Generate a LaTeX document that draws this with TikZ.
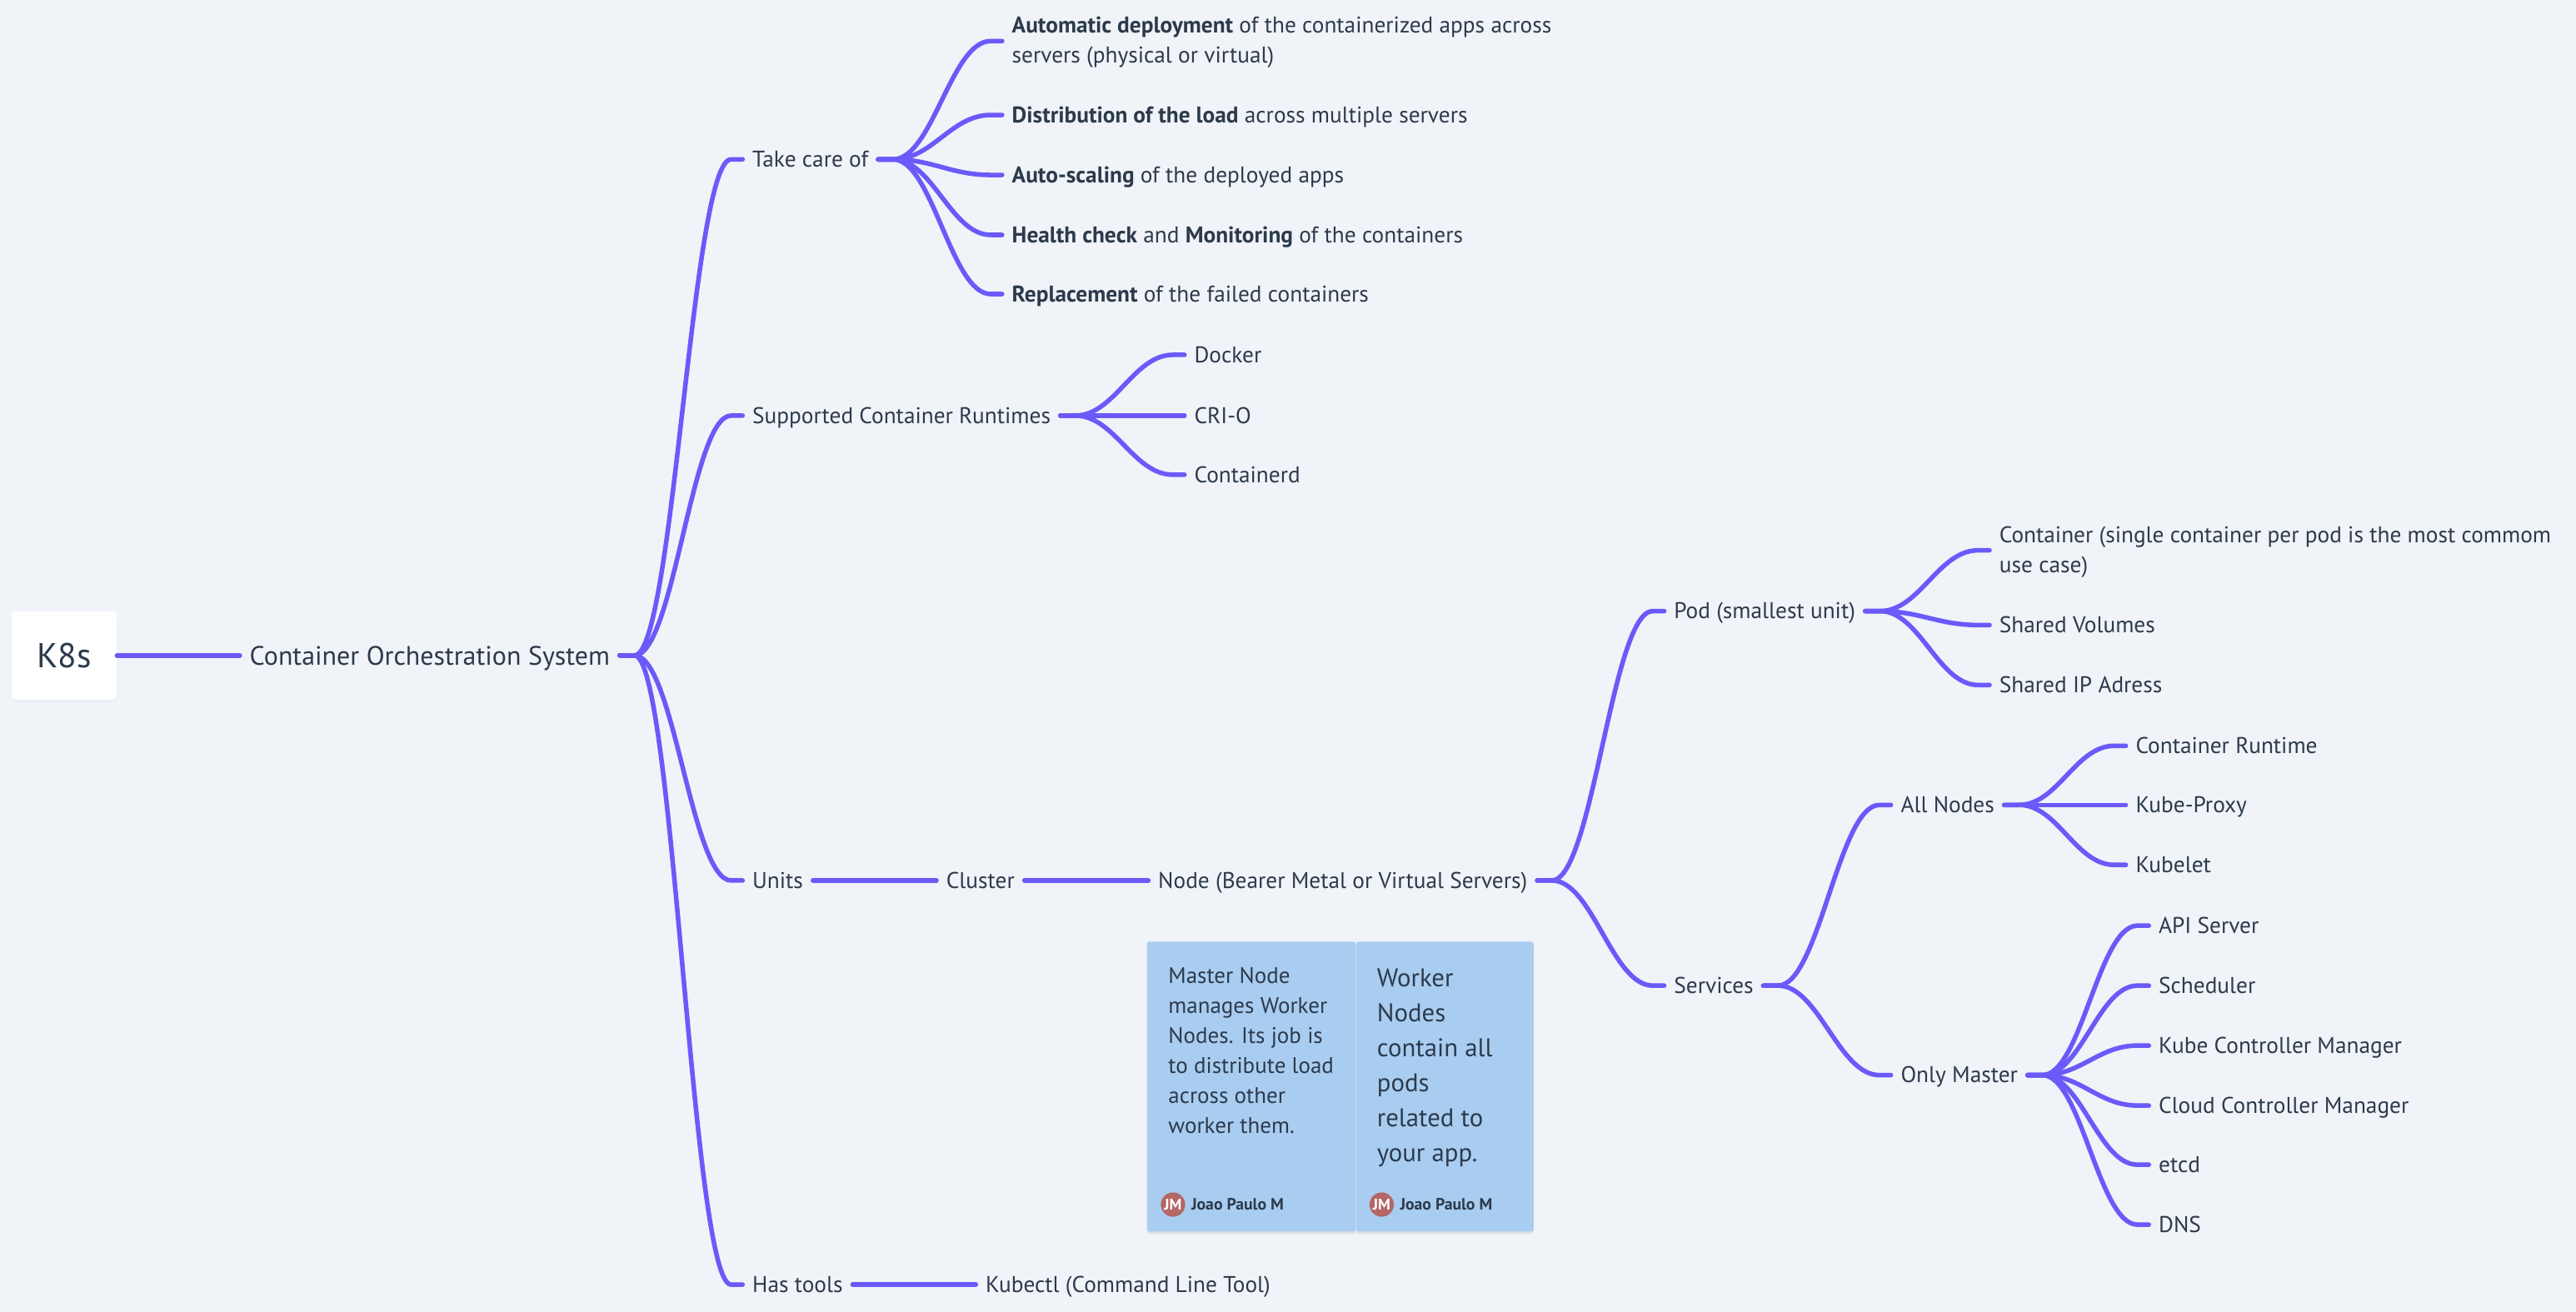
\documentclass[tikz,border=0pt]{standalone}
\usepackage{fontspec}
\setmainfont{PT Sans}
\usetikzlibrary{calc,shadows}
\definecolor{boardbg}{HTML}{F0F3F7}
\definecolor{linkcol}{HTML}{6A5AF9}
\definecolor{inkcol}{HTML}{2C3A4B}
\definecolor{stickycol}{HTML}{A9CDF1}
\definecolor{avatarcol}{HTML}{B56666}
\tikzset{
    x=1pt,y=-1pt,
    item/.style={anchor=west,inner xsep=6pt,inner ysep=0pt,outer sep=0pt,text=inkcol,align=left,
        text height=12pt,text depth=2.6pt,font=\fontsize{13.85}{18.3}\selectfont},
    wrapitem/.style={item,text height=30.6pt,text depth=3.6pt},
    bigitem/.style={item,text height=15.5pt,text depth=3.5pt,font=\fontsize{16.2}{20}\selectfont},
    rootbox/.style={draw=none,fill=white,rounded corners=3pt,minimum width=64pt,minimum height=54pt,
        inner sep=0pt,text=inkcol,font=\fontsize{21}{24}\selectfont,
        drop shadow={opacity=.06,shadow xshift=0pt,shadow yshift=-1.5pt}},
    sticky/.style={anchor=north west,fill=stickycol,rounded corners=1.5pt,minimum height=176.5pt,inner sep=0pt,
        drop shadow={opacity=.16,shadow xshift=0pt,shadow yshift=-1.5pt}},
    stickytext/.style={anchor=north west,inner sep=0pt,text=inkcol,align=left},
    avatar/.style={circle,fill=avatarcol,minimum size=14.8pt,inner sep=0pt,text=white,
        font=\fontsize{9.4}{10}\bfseries\selectfont},
    signer/.style={anchor=west,inner sep=0pt,text=inkcol,font=\fontsize{10}{11}\bfseries\selectfont},
    link/.style={draw=linkcol,line width=2.8pt,line cap=round},
    branch/.style={to path={let \p1=(\tikztostart),\p2=(\tikztotarget),\n1={\x2-\x1} in
        (\p1) -- ++(9pt,0pt) .. controls +(.32*\n1,0pt) and +(-.32*\n1,0pt) .. ($(\p2)+(-7pt,0pt)$) -- (\p2)}},
}
\begin{document}
\begin{tikzpicture}
    \useasboundingbox[fill=boardbg] (0,0) rectangle (1568,798.7);
    \node[rootbox] (k8s) at (39,399) {K8s};
    \node[bigitem] (orch) at (146,399) {Container Orchestration System};
    \node[item] (care) at (452,97) {Take care of};
    \node[wrapitem] (deploy) at (610,25) {\textbf{Automatic deployment} of the containerized apps across\\servers (physical or virtual)};
    \node[item] (load) at (610,70) {\textbf{Distribution of the load} across multiple servers};
    \node[item] (scaling) at (610,106.5) {\textbf{Auto-scaling} of the deployed apps};
    \node[item] (health) at (610,143) {\textbf{Health check} and \textbf{Monitoring} of the containers};
    \node[item] (replace) at (610,179) {\textbf{Replacement} of the failed containers};
    \node[item] (runtimes) at (452,253) {Supported Container Runtimes};
    \node[item] (docker) at (721,216) {Docker};
    \node[item] (crio) at (721,253) {CRI-O};
    \node[item] (containerd) at (721,289) {Containerd};
    \node[item] (units) at (452,536) {Units};
    \node[item] (cluster) at (570,536) {Cluster};
    \node[item] (wnode) at (699,536) {Node (Bearer Metal or Virtual Servers)};
    \node[item] (pod) at (1013,372) {Pod (smallest unit)};
    \node[wrapitem] (single) at (1211,335) {Container (single container per pod is the most commom\\use case)};
    \node[item] (volumes) at (1211,380.5) {Shared Volumes};
    \node[item] (ipaddr) at (1211,417) {Shared IP Adress};
    \node[item] (services) at (1013,600) {Services};
    \node[item] (allnodes) at (1151,490) {All Nodes};
    \node[item] (cruntime) at (1294,454) {Container Runtime};
    \node[item] (proxy) at (1294,490) {Kube-Proxy};
    \node[item] (kubelet) at (1294,526.5) {Kubelet};
    \node[item] (master) at (1151,654.5) {Only Master};
    \node[item] (api) at (1308,563.5) {API Server};
    \node[item] (sched) at (1308,600) {Scheduler};
    \node[item] (kcm) at (1308,636.5) {Kube Controller Manager};
    \node[item] (ccm) at (1308,673) {Cloud Controller Manager};
    \node[item] (etcd) at (1308,709) {etcd};
    \node[item] (dns) at (1308,745.5) {DNS};
    \node[item] (tools) at (452,782) {Has tools};
    \node[item] (kubectl) at (594,782) {Kubectl (Command Line Tool)};
    \draw[link] (k8s.east) -- (orch.west);
    \draw[link] (orch.east) to[branch] (care.west);
    \draw[link] (orch.east) to[branch] (runtimes.west);
    \draw[link] (orch.east) to[branch] (units.west);
    \draw[link] (orch.east) to[branch] (tools.west);
    \draw[link] (care.east) to[branch] (deploy.west);
    \draw[link] (care.east) to[branch] (load.west);
    \draw[link] (care.east) to[branch] (scaling.west);
    \draw[link] (care.east) to[branch] (health.west);
    \draw[link] (care.east) to[branch] (replace.west);
    \draw[link] (runtimes.east) to[branch] (docker.west);
    \draw[link] (runtimes.east) -- (crio.west);
    \draw[link] (runtimes.east) to[branch] (containerd.west);
    \draw[link] (units.east) -- (cluster.west);
    \draw[link] (cluster.east) -- (wnode.west);
    \draw[link] (wnode.east) to[branch] (pod.west);
    \draw[link] (wnode.east) to[branch] (services.west);
    \draw[link] (pod.east) to[branch] (single.west);
    \draw[link] (pod.east) to[branch] (volumes.west);
    \draw[link] (pod.east) to[branch] (ipaddr.west);
    \draw[link] (services.east) to[branch] (allnodes.west);
    \draw[link] (services.east) to[branch] (master.west);
    \draw[link] (allnodes.east) to[branch] (cruntime.west);
    \draw[link] (allnodes.east) -- (proxy.west);
    \draw[link] (allnodes.east) to[branch] (kubelet.west);
    \draw[link] (master.east) to[branch] (api.west);
    \draw[link] (master.east) to[branch] (sched.west);
    \draw[link] (master.east) to[branch] (kcm.west);
    \draw[link] (master.east) to[branch] (ccm.west);
    \draw[link] (master.east) to[branch] (etcd.west);
    \draw[link] (master.east) to[branch] (dns.west);
    \draw[link] (tools.east) -- (kubectl.west);
    \node[sticky,minimum width=127pt] (notemaster) at (698,573) {};
    \node[sticky,minimum width=108pt] (noteworker) at (825.3,573) {};
    \node[stickytext,font=\fontsize{13.7}{18.3}\selectfont] (textmaster) at (711,588.5) {Master Node\\manages Worker\\Nodes. Its job is\\to distribute load\\across other\\worker them.};
    \node[stickytext,font=\fontsize{15.6}{21.3}\selectfont] (textworker) at (838,589.5) {Worker\\Nodes\\contain all\\pods\\related to\\your app.};
    \node[avatar] (jmone) at (714,733.3) {JM};
    \node[avatar] (jmtwo) at (841,733.3) {JM};
    \node[signer] (signone) at (725,733) {Joao Paulo M};
    \node[signer] (signtwo) at (852,733) {Joao Paulo M};
\end{tikzpicture}
\end{document}
